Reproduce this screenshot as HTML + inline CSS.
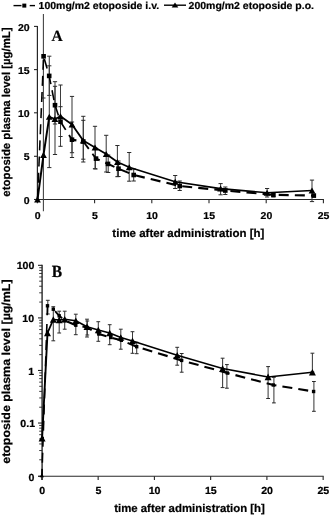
<!DOCTYPE html>
<html lang="en"><head><meta charset="utf-8"><title>etoposide plasma level</title>
<style>html,body{margin:0;padding:0;background:#fff}body{width:330px;height:515px;overflow:hidden}svg{display:block}text{font-family:"Liberation Sans",Arial,Helvetica,sans-serif;font-weight:bold;text-rendering:geometricPrecision;fill:#000;stroke:#000;stroke-width:0.22px}.s{font-family:"Liberation Serif","Times New Roman",serif}</style></head><body>
<svg width="330" height="515" viewBox="0 0 330 515">
<rect width="330" height="515" fill="#fff"/>
<defs><filter id="bl" x="0" y="0" width="330" height="515" filterUnits="userSpaceOnUse"><feGaussianBlur stdDeviation="0.3"/></filter></defs>
<g filter="url(#bl)">
<line x1="13.50" y1="5.60" x2="21.50" y2="5.60" stroke="#000" stroke-width="1.4"/>
<line x1="29.70" y1="5.60" x2="35.00" y2="5.60" stroke="#000" stroke-width="1.4"/>
<rect x="22.30" y="3.60" width="4.0" height="4.0" fill="#000"/>
<text x="0" y="0" font-size="10.1" text-anchor="start" transform="translate(38.60,9.20) scale(1.04,1)">100mg/m2 etoposide i.v.</text>
<line x1="164.00" y1="5.20" x2="186.00" y2="5.20" stroke="#000" stroke-width="1.4"/>
<polygon points="175.00,2.40 178.30,7.60 171.70,7.60" fill="#000"/>
<text x="0" y="0" font-size="10.1" text-anchor="start" transform="translate(188.60,9.20) scale(1.04,1)">200mg/m2 etoposide p.o.</text>
<line x1="37.40" y1="26.00" x2="37.40" y2="200.00" stroke="#262626" stroke-width="1.2"/>
<line x1="34.00" y1="199.50" x2="323.90" y2="199.50" stroke="#262626" stroke-width="1.1"/>
<line x1="34.00" y1="199.50" x2="37.40" y2="199.50" stroke="#262626" stroke-width="1.1"/>
<text x="0" y="0" font-size="10.0" text-anchor="end" transform="translate(29.60,203.60) scale(1.05,1)">0</text>
<line x1="34.00" y1="156.30" x2="37.40" y2="156.30" stroke="#262626" stroke-width="1.1"/>
<text x="0" y="0" font-size="10.0" text-anchor="end" transform="translate(29.60,160.40) scale(1.05,1)">5</text>
<line x1="34.00" y1="112.80" x2="37.40" y2="112.80" stroke="#262626" stroke-width="1.1"/>
<text x="0" y="0" font-size="10.0" text-anchor="end" transform="translate(29.60,116.90) scale(1.05,1)">10</text>
<line x1="34.00" y1="69.60" x2="37.40" y2="69.60" stroke="#262626" stroke-width="1.1"/>
<text x="0" y="0" font-size="10.0" text-anchor="end" transform="translate(29.60,73.70) scale(1.05,1)">15</text>
<line x1="34.00" y1="26.40" x2="37.40" y2="26.40" stroke="#262626" stroke-width="1.1"/>
<text x="0" y="0" font-size="10.0" text-anchor="end" transform="translate(29.60,30.50) scale(1.05,1)">20</text>
<line x1="37.40" y1="199.50" x2="37.40" y2="203.20" stroke="#262626" stroke-width="1.1"/>
<text x="0" y="0" font-size="10.0" text-anchor="middle" transform="translate(37.60,218.80) scale(1.05,1)">0</text>
<line x1="94.60" y1="199.50" x2="94.60" y2="203.20" stroke="#262626" stroke-width="1.1"/>
<text x="0" y="0" font-size="10.0" text-anchor="middle" transform="translate(94.80,218.80) scale(1.05,1)">5</text>
<line x1="151.80" y1="199.50" x2="151.80" y2="203.20" stroke="#262626" stroke-width="1.1"/>
<text x="0" y="0" font-size="10.0" text-anchor="middle" transform="translate(152.00,218.80) scale(1.05,1)">10</text>
<line x1="209.00" y1="199.50" x2="209.00" y2="203.20" stroke="#262626" stroke-width="1.1"/>
<text x="0" y="0" font-size="10.0" text-anchor="middle" transform="translate(209.20,218.80) scale(1.05,1)">15</text>
<line x1="266.20" y1="199.50" x2="266.20" y2="203.20" stroke="#262626" stroke-width="1.1"/>
<text x="0" y="0" font-size="10.0" text-anchor="middle" transform="translate(266.40,218.80) scale(1.05,1)">20</text>
<line x1="323.40" y1="199.50" x2="323.40" y2="203.20" stroke="#262626" stroke-width="1.1"/>
<text x="0" y="0" font-size="10.0" text-anchor="middle" transform="translate(323.60,218.80) scale(1.05,1)">25</text>
<text x="0" y="0" font-size="11.4" text-anchor="middle" transform="translate(10.4,112) rotate(-90)">etoposide plasma level [µg/mL]</text>
<text x="0" y="0" font-size="11.5" text-anchor="middle" transform="translate(188.40,237.30) scale(1.0001,1)">time after administration [h]</text>
<text x="0" y="0" font-size="15.5" text-anchor="start" class="s" transform="translate(51.60,41.30) scale(1.0001,1)">A</text>
<line x1="43.40" y1="14.00" x2="43.40" y2="98.00" stroke="#3c3c3c" stroke-width="1.05"/>
<line x1="41.30" y1="98.00" x2="45.50" y2="98.00" stroke="#2a2a2a" stroke-width="1.0"/>
<line x1="43.40" y1="98.00" x2="43.40" y2="211.20" stroke="#3c3c3c" stroke-width="1.05"/>
<line x1="49.30" y1="56.20" x2="49.30" y2="95.40" stroke="#3c3c3c" stroke-width="1.05"/>
<line x1="47.20" y1="56.20" x2="51.40" y2="56.20" stroke="#2a2a2a" stroke-width="1.0"/>
<line x1="47.20" y1="95.40" x2="51.40" y2="95.40" stroke="#2a2a2a" stroke-width="1.0"/>
<line x1="49.30" y1="65.80" x2="49.30" y2="167.60" stroke="#3c3c3c" stroke-width="1.05"/>
<line x1="47.20" y1="65.80" x2="51.40" y2="65.80" stroke="#2a2a2a" stroke-width="1.0"/>
<line x1="47.20" y1="167.60" x2="51.40" y2="167.60" stroke="#2a2a2a" stroke-width="1.0"/>
<line x1="55.00" y1="81.70" x2="55.00" y2="154.50" stroke="#3c3c3c" stroke-width="1.05"/>
<line x1="52.90" y1="81.70" x2="57.10" y2="81.70" stroke="#2a2a2a" stroke-width="1.0"/>
<line x1="52.90" y1="154.50" x2="57.10" y2="154.50" stroke="#2a2a2a" stroke-width="1.0"/>
<line x1="55.00" y1="86.30" x2="55.00" y2="124.00" stroke="#3c3c3c" stroke-width="1.05"/>
<line x1="52.90" y1="86.30" x2="57.10" y2="86.30" stroke="#2a2a2a" stroke-width="1.0"/>
<line x1="52.90" y1="124.00" x2="57.10" y2="124.00" stroke="#2a2a2a" stroke-width="1.0"/>
<line x1="60.50" y1="85.00" x2="60.50" y2="146.30" stroke="#3c3c3c" stroke-width="1.05"/>
<line x1="58.40" y1="85.00" x2="62.60" y2="85.00" stroke="#2a2a2a" stroke-width="1.0"/>
<line x1="58.40" y1="146.30" x2="62.60" y2="146.30" stroke="#2a2a2a" stroke-width="1.0"/>
<line x1="60.50" y1="106.70" x2="60.50" y2="136.50" stroke="#3c3c3c" stroke-width="1.05"/>
<line x1="58.40" y1="106.70" x2="62.60" y2="106.70" stroke="#2a2a2a" stroke-width="1.0"/>
<line x1="58.40" y1="136.50" x2="62.60" y2="136.50" stroke="#2a2a2a" stroke-width="1.0"/>
<line x1="72.00" y1="96.40" x2="72.00" y2="152.70" stroke="#3c3c3c" stroke-width="1.05"/>
<line x1="69.90" y1="96.40" x2="74.10" y2="96.40" stroke="#2a2a2a" stroke-width="1.0"/>
<line x1="69.90" y1="152.70" x2="74.10" y2="152.70" stroke="#2a2a2a" stroke-width="1.0"/>
<line x1="72.00" y1="122.00" x2="72.00" y2="157.50" stroke="#3c3c3c" stroke-width="1.05"/>
<line x1="69.90" y1="122.00" x2="74.10" y2="122.00" stroke="#2a2a2a" stroke-width="1.0"/>
<line x1="69.90" y1="157.50" x2="74.10" y2="157.50" stroke="#2a2a2a" stroke-width="1.0"/>
<line x1="83.30" y1="116.30" x2="83.30" y2="162.00" stroke="#3c3c3c" stroke-width="1.05"/>
<line x1="81.20" y1="116.30" x2="85.40" y2="116.30" stroke="#2a2a2a" stroke-width="1.0"/>
<line x1="81.20" y1="162.00" x2="85.40" y2="162.00" stroke="#2a2a2a" stroke-width="1.0"/>
<line x1="83.30" y1="120.30" x2="83.30" y2="159.20" stroke="#3c3c3c" stroke-width="1.05"/>
<line x1="81.20" y1="120.30" x2="85.40" y2="120.30" stroke="#2a2a2a" stroke-width="1.0"/>
<line x1="81.20" y1="159.20" x2="85.40" y2="159.20" stroke="#2a2a2a" stroke-width="1.0"/>
<line x1="95.00" y1="126.30" x2="95.00" y2="168.70" stroke="#3c3c3c" stroke-width="1.05"/>
<line x1="92.90" y1="126.30" x2="97.10" y2="126.30" stroke="#2a2a2a" stroke-width="1.0"/>
<line x1="92.90" y1="168.70" x2="97.10" y2="168.70" stroke="#2a2a2a" stroke-width="1.0"/>
<line x1="95.50" y1="148.00" x2="95.50" y2="169.00" stroke="#3c3c3c" stroke-width="1.05"/>
<line x1="93.40" y1="148.00" x2="97.60" y2="148.00" stroke="#2a2a2a" stroke-width="1.0"/>
<line x1="93.40" y1="169.00" x2="97.60" y2="169.00" stroke="#2a2a2a" stroke-width="1.0"/>
<line x1="106.20" y1="135.30" x2="106.20" y2="172.00" stroke="#3c3c3c" stroke-width="1.05"/>
<line x1="104.10" y1="135.30" x2="108.30" y2="135.30" stroke="#2a2a2a" stroke-width="1.0"/>
<line x1="104.10" y1="172.00" x2="108.30" y2="172.00" stroke="#2a2a2a" stroke-width="1.0"/>
<line x1="108.20" y1="155.00" x2="108.20" y2="172.50" stroke="#3c3c3c" stroke-width="1.05"/>
<line x1="106.10" y1="155.00" x2="110.30" y2="155.00" stroke="#2a2a2a" stroke-width="1.0"/>
<line x1="106.10" y1="172.50" x2="110.30" y2="172.50" stroke="#2a2a2a" stroke-width="1.0"/>
<line x1="117.40" y1="145.50" x2="117.40" y2="176.70" stroke="#3c3c3c" stroke-width="1.05"/>
<line x1="115.30" y1="145.50" x2="119.50" y2="145.50" stroke="#2a2a2a" stroke-width="1.0"/>
<line x1="115.30" y1="176.70" x2="119.50" y2="176.70" stroke="#2a2a2a" stroke-width="1.0"/>
<line x1="118.50" y1="161.00" x2="118.50" y2="176.50" stroke="#3c3c3c" stroke-width="1.05"/>
<line x1="116.40" y1="161.00" x2="120.60" y2="161.00" stroke="#2a2a2a" stroke-width="1.0"/>
<line x1="116.40" y1="176.50" x2="120.60" y2="176.50" stroke="#2a2a2a" stroke-width="1.0"/>
<line x1="129.20" y1="152.50" x2="129.20" y2="181.20" stroke="#3c3c3c" stroke-width="1.05"/>
<line x1="127.10" y1="152.50" x2="131.30" y2="152.50" stroke="#2a2a2a" stroke-width="1.0"/>
<line x1="127.10" y1="181.20" x2="131.30" y2="181.20" stroke="#2a2a2a" stroke-width="1.0"/>
<line x1="133.70" y1="169.00" x2="133.70" y2="181.00" stroke="#3c3c3c" stroke-width="1.05"/>
<line x1="131.60" y1="169.00" x2="135.80" y2="169.00" stroke="#2a2a2a" stroke-width="1.0"/>
<line x1="131.60" y1="181.00" x2="135.80" y2="181.00" stroke="#2a2a2a" stroke-width="1.0"/>
<line x1="175.20" y1="175.50" x2="175.20" y2="188.50" stroke="#3c3c3c" stroke-width="1.05"/>
<line x1="173.10" y1="175.50" x2="177.30" y2="175.50" stroke="#2a2a2a" stroke-width="1.0"/>
<line x1="173.10" y1="188.50" x2="177.30" y2="188.50" stroke="#2a2a2a" stroke-width="1.0"/>
<line x1="179.70" y1="181.00" x2="179.70" y2="190.50" stroke="#3c3c3c" stroke-width="1.05"/>
<line x1="177.60" y1="181.00" x2="181.80" y2="181.00" stroke="#2a2a2a" stroke-width="1.0"/>
<line x1="177.60" y1="190.50" x2="181.80" y2="190.50" stroke="#2a2a2a" stroke-width="1.0"/>
<line x1="220.60" y1="183.60" x2="220.60" y2="194.80" stroke="#3c3c3c" stroke-width="1.05"/>
<line x1="218.50" y1="183.60" x2="222.70" y2="183.60" stroke="#2a2a2a" stroke-width="1.0"/>
<line x1="218.50" y1="194.80" x2="222.70" y2="194.80" stroke="#2a2a2a" stroke-width="1.0"/>
<line x1="225.30" y1="187.00" x2="225.30" y2="194.50" stroke="#3c3c3c" stroke-width="1.05"/>
<line x1="223.20" y1="187.00" x2="227.40" y2="187.00" stroke="#2a2a2a" stroke-width="1.0"/>
<line x1="223.20" y1="194.50" x2="227.40" y2="194.50" stroke="#2a2a2a" stroke-width="1.0"/>
<line x1="267.10" y1="188.50" x2="267.10" y2="197.00" stroke="#3c3c3c" stroke-width="1.05"/>
<line x1="265.00" y1="188.50" x2="269.20" y2="188.50" stroke="#2a2a2a" stroke-width="1.0"/>
<line x1="265.00" y1="197.00" x2="269.20" y2="197.00" stroke="#2a2a2a" stroke-width="1.0"/>
<line x1="273.40" y1="192.50" x2="273.40" y2="197.00" stroke="#3c3c3c" stroke-width="1.05"/>
<line x1="271.30" y1="192.50" x2="275.50" y2="192.50" stroke="#2a2a2a" stroke-width="1.0"/>
<line x1="271.30" y1="197.00" x2="275.50" y2="197.00" stroke="#2a2a2a" stroke-width="1.0"/>
<line x1="312.00" y1="180.10" x2="312.00" y2="201.60" stroke="#3c3c3c" stroke-width="1.05"/>
<line x1="309.90" y1="180.10" x2="314.10" y2="180.10" stroke="#2a2a2a" stroke-width="1.0"/>
<line x1="309.90" y1="201.60" x2="314.10" y2="201.60" stroke="#2a2a2a" stroke-width="1.0"/>
<line x1="37.53" y1="198.80" x2="37.96" y2="188.81" stroke="#000" stroke-width="1.55"/>
<line x1="38.22" y1="182.67" x2="38.64" y2="172.67" stroke="#000" stroke-width="1.55"/>
<line x1="38.90" y1="166.53" x2="39.33" y2="156.54" stroke="#000" stroke-width="1.55"/>
<line x1="39.59" y1="150.39" x2="40.02" y2="140.40" stroke="#000" stroke-width="1.55"/>
<line x1="40.28" y1="134.26" x2="40.70" y2="124.27" stroke="#000" stroke-width="1.55"/>
<line x1="40.97" y1="118.12" x2="41.39" y2="108.13" stroke="#000" stroke-width="1.55"/>
<line x1="41.65" y1="101.99" x2="42.08" y2="92.00" stroke="#000" stroke-width="1.55"/>
<line x1="42.34" y1="85.85" x2="42.77" y2="75.86" stroke="#000" stroke-width="1.55"/>
<line x1="43.03" y1="69.72" x2="43.45" y2="59.73" stroke="#000" stroke-width="1.55"/>
<line x1="44.35" y1="58.92" x2="47.09" y2="68.53" stroke="#000" stroke-width="1.6"/>
<line x1="48.78" y1="74.44" x2="49.20" y2="75.90" stroke="#000" stroke-width="1.6"/>
<line x1="49.20" y1="75.90" x2="50.85" y2="84.22" stroke="#000" stroke-width="1.58"/>
<line x1="52.04" y1="90.26" x2="53.98" y2="100.07" stroke="#000" stroke-width="1.58"/>
<line x1="55.29" y1="106.07" x2="58.45" y2="115.56" stroke="#000" stroke-width="1.62"/>
<line x1="60.40" y1="121.39" x2="60.50" y2="121.70" stroke="#000" stroke-width="1.62"/>
<line x1="60.50" y1="121.70" x2="65.71" y2="129.85" stroke="#000" stroke-width="1.75"/>
<line x1="69.02" y1="135.04" x2="72.00" y2="139.70" stroke="#000" stroke-width="1.75"/>
<line x1="72.00" y1="139.70" x2="76.41" y2="140.40" stroke="#000" stroke-width="2.14"/>
<line x1="82.48" y1="141.37" x2="83.30" y2="141.50" stroke="#000" stroke-width="2.14"/>
<line x1="83.30" y1="141.50" x2="88.77" y2="148.86" stroke="#000" stroke-width="1.79"/>
<line x1="92.44" y1="153.80" x2="96.00" y2="158.60" stroke="#000" stroke-width="1.79"/>
<line x1="96.00" y1="158.60" x2="99.68" y2="160.22" stroke="#000" stroke-width="2.06"/>
<line x1="105.30" y1="162.71" x2="108.00" y2="163.90" stroke="#000" stroke-width="2.06"/>
<line x1="108.00" y1="163.90" x2="114.42" y2="166.83" stroke="#000" stroke-width="2.06"/>
<line x1="120.03" y1="169.34" x2="129.27" y2="173.16" stroke="#000" stroke-width="2.07"/>
<line x1="135.02" y1="175.32" x2="144.74" y2="177.64" stroke="#000" stroke-width="2.12"/>
<line x1="150.72" y1="179.07" x2="160.45" y2="181.40" stroke="#000" stroke-width="2.12"/>
<line x1="166.43" y1="182.83" x2="176.16" y2="185.15" stroke="#000" stroke-width="2.12"/>
<line x1="182.20" y1="186.25" x2="192.15" y2="187.23" stroke="#000" stroke-width="2.15"/>
<line x1="198.27" y1="187.83" x2="208.22" y2="188.81" stroke="#000" stroke-width="2.15"/>
<line x1="214.34" y1="189.42" x2="224.29" y2="190.40" stroke="#000" stroke-width="2.15"/>
<line x1="230.42" y1="190.96" x2="240.38" y2="191.85" stroke="#000" stroke-width="2.15"/>
<line x1="246.50" y1="192.40" x2="256.46" y2="193.29" stroke="#000" stroke-width="2.15"/>
<line x1="262.59" y1="193.83" x2="272.55" y2="194.72" stroke="#000" stroke-width="2.15"/>
<line x1="278.69" y1="194.90" x2="288.69" y2="195.10" stroke="#000" stroke-width="2.15"/>
<line x1="294.84" y1="195.22" x2="304.84" y2="195.42" stroke="#000" stroke-width="2.15"/>
<line x1="310.99" y1="195.54" x2="313.80" y2="195.60" stroke="#000" stroke-width="2.15"/>
<line x1="37.50" y1="199.50" x2="43.50" y2="155.00" stroke="#000" stroke-width="1.94" stroke-linecap="round"/>
<line x1="43.50" y1="155.00" x2="49.30" y2="116.70" stroke="#000" stroke-width="1.94" stroke-linecap="round"/>
<line x1="49.30" y1="116.70" x2="54.90" y2="119.00" stroke="#000" stroke-width="1.66" stroke-linecap="round"/>
<line x1="54.90" y1="119.00" x2="60.50" y2="116.30" stroke="#000" stroke-width="1.67" stroke-linecap="round"/>
<line x1="60.50" y1="116.30" x2="72.00" y2="124.50" stroke="#000" stroke-width="1.73" stroke-linecap="round"/>
<line x1="72.00" y1="124.50" x2="83.20" y2="140.50" stroke="#000" stroke-width="1.84" stroke-linecap="round"/>
<line x1="83.20" y1="140.50" x2="95.00" y2="147.50" stroke="#000" stroke-width="1.7" stroke-linecap="round"/>
<line x1="95.00" y1="147.50" x2="106.20" y2="154.00" stroke="#000" stroke-width="1.7" stroke-linecap="round"/>
<line x1="106.20" y1="154.00" x2="117.40" y2="162.00" stroke="#000" stroke-width="1.73" stroke-linecap="round"/>
<line x1="117.40" y1="162.00" x2="129.20" y2="167.20" stroke="#000" stroke-width="1.66" stroke-linecap="round"/>
<line x1="129.20" y1="167.20" x2="175.20" y2="181.70" stroke="#000" stroke-width="1.63" stroke-linecap="round"/>
<line x1="175.20" y1="181.70" x2="220.60" y2="188.60" stroke="#000" stroke-width="1.61" stroke-linecap="round"/>
<line x1="220.60" y1="188.60" x2="267.10" y2="192.80" stroke="#000" stroke-width="1.6" stroke-linecap="round"/>
<line x1="267.10" y1="192.80" x2="312.00" y2="190.50" stroke="#000" stroke-width="1.6" stroke-linecap="round"/>
<rect x="41.30" y="54.00" width="4.6" height="4.6" fill="#000"/>
<rect x="46.90" y="73.60" width="4.6" height="4.6" fill="#000"/>
<rect x="52.70" y="102.90" width="4.6" height="4.6" fill="#000"/>
<rect x="58.20" y="119.40" width="4.6" height="4.6" fill="#000"/>
<rect x="69.70" y="137.40" width="4.6" height="4.6" fill="#000"/>
<rect x="81.00" y="139.20" width="4.6" height="4.6" fill="#000"/>
<rect x="93.70" y="156.30" width="4.6" height="4.6" fill="#000"/>
<rect x="105.70" y="161.60" width="4.6" height="4.6" fill="#000"/>
<rect x="116.20" y="166.40" width="4.6" height="4.6" fill="#000"/>
<rect x="131.40" y="172.70" width="4.6" height="4.6" fill="#000"/>
<rect x="177.40" y="183.70" width="4.6" height="4.6" fill="#000"/>
<rect x="223.00" y="188.20" width="4.6" height="4.6" fill="#000"/>
<rect x="271.10" y="192.50" width="4.6" height="4.6" fill="#000"/>
<rect x="311.50" y="193.30" width="4.6" height="4.6" fill="#000"/>
<polygon points="37.50,196.50 40.90,202.50 34.10,202.50" fill="#000"/>
<polygon points="43.50,152.00 46.90,158.00 40.10,158.00" fill="#000"/>
<polygon points="49.30,113.70 52.70,119.70 45.90,119.70" fill="#000"/>
<polygon points="54.90,116.00 58.30,122.00 51.50,122.00" fill="#000"/>
<polygon points="60.50,113.30 63.90,119.30 57.10,119.30" fill="#000"/>
<polygon points="72.00,121.50 75.40,127.50 68.60,127.50" fill="#000"/>
<polygon points="83.20,137.50 86.60,143.50 79.80,143.50" fill="#000"/>
<polygon points="95.00,144.50 98.40,150.50 91.60,150.50" fill="#000"/>
<polygon points="106.20,151.00 109.60,157.00 102.80,157.00" fill="#000"/>
<polygon points="117.40,159.00 120.80,165.00 114.00,165.00" fill="#000"/>
<polygon points="129.20,164.20 132.60,170.20 125.80,170.20" fill="#000"/>
<polygon points="175.20,178.70 178.60,184.70 171.80,184.70" fill="#000"/>
<polygon points="220.60,185.60 224.00,191.60 217.20,191.60" fill="#000"/>
<polygon points="267.10,189.80 270.50,195.80 263.70,195.80" fill="#000"/>
<polygon points="312.00,187.50 315.40,193.50 308.60,193.50" fill="#000"/>
<line x1="42.10" y1="264.80" x2="42.10" y2="480.00" stroke="#262626" stroke-width="1.4"/>
<line x1="38.20" y1="476.30" x2="323.70" y2="476.30" stroke="#262626" stroke-width="1.1"/>
<line x1="38.00" y1="265.33" x2="42.10" y2="265.33" stroke="#262626" stroke-width="1.1"/>
<text x="0" y="0" font-size="10.3" text-anchor="end" transform="translate(34.40,269.13) scale(1.03,1)">100</text>
<line x1="38.00" y1="317.90" x2="42.10" y2="317.90" stroke="#262626" stroke-width="1.1"/>
<text x="0" y="0" font-size="10.3" text-anchor="end" transform="translate(34.10,321.70) scale(1.03,1)">10</text>
<line x1="38.00" y1="370.47" x2="42.10" y2="370.47" stroke="#262626" stroke-width="1.1"/>
<text x="0" y="0" font-size="10.3" text-anchor="end" transform="translate(34.20,374.87) scale(1.03,1)">1</text>
<line x1="38.00" y1="423.04" x2="42.10" y2="423.04" stroke="#262626" stroke-width="1.1"/>
<text x="0" y="0" font-size="10.3" text-anchor="end" transform="translate(35.10,426.84) scale(1.03,1)">0.1</text>
<line x1="38.00" y1="476.30" x2="42.10" y2="476.30" stroke="#262626" stroke-width="1.1"/>
<text x="0" y="0" font-size="10.3" text-anchor="end" transform="translate(34.30,480.70) scale(1.03,1)">0</text>
<line x1="39.20" y1="459.78" x2="42.10" y2="459.78" stroke="#262626" stroke-width="0.9"/>
<line x1="39.20" y1="450.53" x2="42.10" y2="450.53" stroke="#262626" stroke-width="0.9"/>
<line x1="39.20" y1="443.96" x2="42.10" y2="443.96" stroke="#262626" stroke-width="0.9"/>
<line x1="39.20" y1="438.87" x2="42.10" y2="438.87" stroke="#262626" stroke-width="0.9"/>
<line x1="39.20" y1="434.70" x2="42.10" y2="434.70" stroke="#262626" stroke-width="0.9"/>
<line x1="39.20" y1="431.18" x2="42.10" y2="431.18" stroke="#262626" stroke-width="0.9"/>
<line x1="39.20" y1="428.13" x2="42.10" y2="428.13" stroke="#262626" stroke-width="0.9"/>
<line x1="39.20" y1="425.45" x2="42.10" y2="425.45" stroke="#262626" stroke-width="0.9"/>
<line x1="39.20" y1="407.21" x2="42.10" y2="407.21" stroke="#262626" stroke-width="0.9"/>
<line x1="39.20" y1="397.96" x2="42.10" y2="397.96" stroke="#262626" stroke-width="0.9"/>
<line x1="39.20" y1="391.39" x2="42.10" y2="391.39" stroke="#262626" stroke-width="0.9"/>
<line x1="39.20" y1="386.30" x2="42.10" y2="386.30" stroke="#262626" stroke-width="0.9"/>
<line x1="39.20" y1="382.13" x2="42.10" y2="382.13" stroke="#262626" stroke-width="0.9"/>
<line x1="39.20" y1="378.61" x2="42.10" y2="378.61" stroke="#262626" stroke-width="0.9"/>
<line x1="39.20" y1="375.56" x2="42.10" y2="375.56" stroke="#262626" stroke-width="0.9"/>
<line x1="39.20" y1="372.88" x2="42.10" y2="372.88" stroke="#262626" stroke-width="0.9"/>
<line x1="39.20" y1="354.64" x2="42.10" y2="354.64" stroke="#262626" stroke-width="0.9"/>
<line x1="39.20" y1="345.39" x2="42.10" y2="345.39" stroke="#262626" stroke-width="0.9"/>
<line x1="39.20" y1="338.82" x2="42.10" y2="338.82" stroke="#262626" stroke-width="0.9"/>
<line x1="39.20" y1="333.73" x2="42.10" y2="333.73" stroke="#262626" stroke-width="0.9"/>
<line x1="39.20" y1="329.56" x2="42.10" y2="329.56" stroke="#262626" stroke-width="0.9"/>
<line x1="39.20" y1="326.04" x2="42.10" y2="326.04" stroke="#262626" stroke-width="0.9"/>
<line x1="39.20" y1="322.99" x2="42.10" y2="322.99" stroke="#262626" stroke-width="0.9"/>
<line x1="39.20" y1="320.31" x2="42.10" y2="320.31" stroke="#262626" stroke-width="0.9"/>
<line x1="39.20" y1="302.07" x2="42.10" y2="302.07" stroke="#262626" stroke-width="0.9"/>
<line x1="39.20" y1="292.82" x2="42.10" y2="292.82" stroke="#262626" stroke-width="0.9"/>
<line x1="39.20" y1="286.25" x2="42.10" y2="286.25" stroke="#262626" stroke-width="0.9"/>
<line x1="39.20" y1="281.16" x2="42.10" y2="281.16" stroke="#262626" stroke-width="0.9"/>
<line x1="39.20" y1="276.99" x2="42.10" y2="276.99" stroke="#262626" stroke-width="0.9"/>
<line x1="39.20" y1="273.47" x2="42.10" y2="273.47" stroke="#262626" stroke-width="0.9"/>
<line x1="39.20" y1="270.42" x2="42.10" y2="270.42" stroke="#262626" stroke-width="0.9"/>
<line x1="39.20" y1="267.74" x2="42.10" y2="267.74" stroke="#262626" stroke-width="0.9"/>
<line x1="41.90" y1="476.30" x2="41.90" y2="480.10" stroke="#262626" stroke-width="1.1"/>
<text x="0" y="0" font-size="10.3" text-anchor="middle" transform="translate(42.10,493.70) scale(1.03,1)">0</text>
<line x1="98.15" y1="476.30" x2="98.15" y2="480.10" stroke="#262626" stroke-width="1.1"/>
<text x="0" y="0" font-size="10.3" text-anchor="middle" transform="translate(98.35,493.70) scale(1.03,1)">5</text>
<line x1="154.40" y1="476.30" x2="154.40" y2="480.10" stroke="#262626" stroke-width="1.1"/>
<text x="0" y="0" font-size="10.3" text-anchor="middle" transform="translate(154.60,493.70) scale(1.03,1)">10</text>
<line x1="210.65" y1="476.30" x2="210.65" y2="480.10" stroke="#262626" stroke-width="1.1"/>
<text x="0" y="0" font-size="10.3" text-anchor="middle" transform="translate(210.85,493.70) scale(1.03,1)">15</text>
<line x1="266.90" y1="476.30" x2="266.90" y2="480.10" stroke="#262626" stroke-width="1.1"/>
<text x="0" y="0" font-size="10.3" text-anchor="middle" transform="translate(267.10,493.70) scale(1.03,1)">20</text>
<line x1="323.15" y1="476.30" x2="323.15" y2="480.10" stroke="#262626" stroke-width="1.1"/>
<text x="0" y="0" font-size="10.3" text-anchor="middle" transform="translate(323.35,493.70) scale(1.03,1)">25</text>
<text x="0" y="0" font-size="11.6" text-anchor="middle" transform="translate(10.4,371.6) rotate(-90) scale(1.07,1)">etoposide plasma level [µg/mL]</text>
<text x="0" y="0" font-size="11.4" text-anchor="middle" transform="translate(189.50,512.00) scale(1.0001,1)">time after administration [h]</text>
<text x="0" y="0" font-size="15.5" text-anchor="start" class="s" transform="translate(51.7,277.1) scale(1,1.1)">B</text>
<line x1="47.80" y1="300.30" x2="47.80" y2="314.00" stroke="#3c3c3c" stroke-width="1.05"/>
<line x1="45.90" y1="300.30" x2="49.70" y2="300.30" stroke="#2a2a2a" stroke-width="1.0"/>
<line x1="45.90" y1="314.00" x2="49.70" y2="314.00" stroke="#2a2a2a" stroke-width="1.0"/>
<line x1="53.30" y1="306.70" x2="53.30" y2="340.80" stroke="#3c3c3c" stroke-width="1.05"/>
<line x1="51.40" y1="306.70" x2="55.20" y2="306.70" stroke="#2a2a2a" stroke-width="1.0"/>
<line x1="51.40" y1="340.80" x2="55.20" y2="340.80" stroke="#2a2a2a" stroke-width="1.0"/>
<line x1="59.20" y1="311.20" x2="59.20" y2="333.00" stroke="#3c3c3c" stroke-width="1.05"/>
<line x1="57.30" y1="311.20" x2="61.10" y2="311.20" stroke="#2a2a2a" stroke-width="1.0"/>
<line x1="57.30" y1="333.00" x2="61.10" y2="333.00" stroke="#2a2a2a" stroke-width="1.0"/>
<line x1="64.70" y1="311.20" x2="64.70" y2="329.20" stroke="#3c3c3c" stroke-width="1.05"/>
<line x1="62.80" y1="311.20" x2="66.60" y2="311.20" stroke="#2a2a2a" stroke-width="1.0"/>
<line x1="62.80" y1="329.20" x2="66.60" y2="329.20" stroke="#2a2a2a" stroke-width="1.0"/>
<line x1="75.80" y1="314.20" x2="75.80" y2="334.70" stroke="#3c3c3c" stroke-width="1.05"/>
<line x1="73.90" y1="314.20" x2="77.70" y2="314.20" stroke="#2a2a2a" stroke-width="1.0"/>
<line x1="73.90" y1="334.70" x2="77.70" y2="334.70" stroke="#2a2a2a" stroke-width="1.0"/>
<line x1="87.00" y1="319.20" x2="87.00" y2="337.00" stroke="#3c3c3c" stroke-width="1.05"/>
<line x1="85.10" y1="319.20" x2="88.90" y2="319.20" stroke="#2a2a2a" stroke-width="1.0"/>
<line x1="85.10" y1="337.00" x2="88.90" y2="337.00" stroke="#2a2a2a" stroke-width="1.0"/>
<line x1="87.30" y1="321.00" x2="87.30" y2="335.00" stroke="#3c3c3c" stroke-width="1.05"/>
<line x1="85.40" y1="321.00" x2="89.20" y2="321.00" stroke="#2a2a2a" stroke-width="1.0"/>
<line x1="85.40" y1="335.00" x2="89.20" y2="335.00" stroke="#2a2a2a" stroke-width="1.0"/>
<line x1="98.30" y1="321.70" x2="98.30" y2="341.30" stroke="#3c3c3c" stroke-width="1.05"/>
<line x1="96.40" y1="321.70" x2="100.20" y2="321.70" stroke="#2a2a2a" stroke-width="1.0"/>
<line x1="96.40" y1="341.30" x2="100.20" y2="341.30" stroke="#2a2a2a" stroke-width="1.0"/>
<line x1="109.70" y1="324.70" x2="109.70" y2="344.70" stroke="#3c3c3c" stroke-width="1.05"/>
<line x1="107.80" y1="324.70" x2="111.60" y2="324.70" stroke="#2a2a2a" stroke-width="1.0"/>
<line x1="107.80" y1="344.70" x2="111.60" y2="344.70" stroke="#2a2a2a" stroke-width="1.0"/>
<line x1="120.80" y1="329.20" x2="120.80" y2="349.20" stroke="#3c3c3c" stroke-width="1.05"/>
<line x1="118.90" y1="329.20" x2="122.70" y2="329.20" stroke="#2a2a2a" stroke-width="1.0"/>
<line x1="118.90" y1="349.20" x2="122.70" y2="349.20" stroke="#2a2a2a" stroke-width="1.0"/>
<line x1="132.50" y1="331.70" x2="132.50" y2="353.30" stroke="#3c3c3c" stroke-width="1.05"/>
<line x1="130.60" y1="331.70" x2="134.40" y2="331.70" stroke="#2a2a2a" stroke-width="1.0"/>
<line x1="130.60" y1="353.30" x2="134.40" y2="353.30" stroke="#2a2a2a" stroke-width="1.0"/>
<line x1="136.70" y1="342.30" x2="136.70" y2="353.70" stroke="#3c3c3c" stroke-width="1.05"/>
<line x1="134.80" y1="342.30" x2="138.60" y2="342.30" stroke="#2a2a2a" stroke-width="1.0"/>
<line x1="134.80" y1="353.70" x2="138.60" y2="353.70" stroke="#2a2a2a" stroke-width="1.0"/>
<line x1="177.20" y1="347.30" x2="177.20" y2="365.20" stroke="#3c3c3c" stroke-width="1.05"/>
<line x1="175.30" y1="347.30" x2="179.10" y2="347.30" stroke="#2a2a2a" stroke-width="1.0"/>
<line x1="175.30" y1="365.20" x2="179.10" y2="365.20" stroke="#2a2a2a" stroke-width="1.0"/>
<line x1="181.70" y1="353.50" x2="181.70" y2="372.20" stroke="#3c3c3c" stroke-width="1.05"/>
<line x1="179.80" y1="353.50" x2="183.60" y2="353.50" stroke="#2a2a2a" stroke-width="1.0"/>
<line x1="179.80" y1="372.20" x2="183.60" y2="372.20" stroke="#2a2a2a" stroke-width="1.0"/>
<line x1="222.60" y1="358.20" x2="222.60" y2="387.60" stroke="#3c3c3c" stroke-width="1.05"/>
<line x1="220.70" y1="358.20" x2="224.50" y2="358.20" stroke="#2a2a2a" stroke-width="1.0"/>
<line x1="220.70" y1="387.60" x2="224.50" y2="387.60" stroke="#2a2a2a" stroke-width="1.0"/>
<line x1="226.90" y1="364.60" x2="226.90" y2="388.20" stroke="#3c3c3c" stroke-width="1.05"/>
<line x1="225.00" y1="364.60" x2="228.80" y2="364.60" stroke="#2a2a2a" stroke-width="1.0"/>
<line x1="225.00" y1="388.20" x2="228.80" y2="388.20" stroke="#2a2a2a" stroke-width="1.0"/>
<line x1="268.10" y1="366.60" x2="268.10" y2="398.50" stroke="#3c3c3c" stroke-width="1.05"/>
<line x1="266.20" y1="366.60" x2="270.00" y2="366.60" stroke="#2a2a2a" stroke-width="1.0"/>
<line x1="266.20" y1="398.50" x2="270.00" y2="398.50" stroke="#2a2a2a" stroke-width="1.0"/>
<line x1="273.90" y1="377.30" x2="273.90" y2="402.90" stroke="#3c3c3c" stroke-width="1.05"/>
<line x1="272.00" y1="377.30" x2="275.80" y2="377.30" stroke="#2a2a2a" stroke-width="1.0"/>
<line x1="272.00" y1="402.90" x2="275.80" y2="402.90" stroke="#2a2a2a" stroke-width="1.0"/>
<line x1="312.40" y1="353.20" x2="312.40" y2="372.00" stroke="#3c3c3c" stroke-width="1.05"/>
<line x1="310.50" y1="353.20" x2="314.30" y2="353.20" stroke="#2a2a2a" stroke-width="1.0"/>
<line x1="310.50" y1="372.00" x2="314.30" y2="372.00" stroke="#2a2a2a" stroke-width="1.0"/>
<line x1="313.90" y1="381.50" x2="313.90" y2="411.30" stroke="#3c3c3c" stroke-width="1.05"/>
<line x1="312.00" y1="381.50" x2="315.80" y2="381.50" stroke="#2a2a2a" stroke-width="1.0"/>
<line x1="312.00" y1="411.30" x2="315.80" y2="411.30" stroke="#2a2a2a" stroke-width="1.0"/>
<line x1="47.50" y1="305.80" x2="47.19" y2="315.30" stroke="#000" stroke-width="1.6"/>
<line x1="46.90" y1="324.00" x2="46.57" y2="334.00" stroke="#000" stroke-width="1.6"/>
<line x1="46.37" y1="340.10" x2="46.04" y2="350.10" stroke="#000" stroke-width="1.6"/>
<line x1="45.84" y1="356.20" x2="45.51" y2="366.20" stroke="#000" stroke-width="1.6"/>
<line x1="45.31" y1="372.30" x2="44.98" y2="382.30" stroke="#000" stroke-width="1.6"/>
<line x1="44.78" y1="388.40" x2="44.45" y2="398.40" stroke="#000" stroke-width="1.6"/>
<line x1="44.25" y1="404.50" x2="43.92" y2="414.50" stroke="#000" stroke-width="1.6"/>
<line x1="43.72" y1="420.60" x2="43.39" y2="430.60" stroke="#000" stroke-width="1.6"/>
<line x1="43.19" y1="436.70" x2="42.86" y2="446.70" stroke="#000" stroke-width="1.6"/>
<line x1="42.65" y1="452.80" x2="42.33" y2="462.80" stroke="#000" stroke-width="1.6"/>
<line x1="42.12" y1="468.90" x2="41.90" y2="475.70" stroke="#000" stroke-width="1.6"/>
<line x1="55.10" y1="311.21" x2="59.20" y2="315.80" stroke="#000" stroke-width="1.84"/>
<line x1="59.20" y1="315.80" x2="62.12" y2="318.30" stroke="#000" stroke-width="1.92"/>
<line x1="67.20" y1="321.56" x2="75.80" y2="325.20" stroke="#000" stroke-width="2.07"/>
<line x1="75.80" y1="325.20" x2="76.44" y2="325.33" stroke="#000" stroke-width="2.13"/>
<line x1="82.42" y1="326.56" x2="87.00" y2="327.50" stroke="#000" stroke-width="2.13"/>
<line x1="87.00" y1="327.50" x2="91.66" y2="330.07" stroke="#000" stroke-width="2.03"/>
<line x1="97.00" y1="333.01" x2="98.80" y2="334.00" stroke="#000" stroke-width="2.03"/>
<line x1="98.80" y1="334.00" x2="106.43" y2="336.23" stroke="#000" stroke-width="2.11"/>
<line x1="112.30" y1="337.90" x2="121.30" y2="340.30" stroke="#000" stroke-width="2.12"/>
<line x1="121.30" y1="340.30" x2="121.93" y2="340.56" stroke="#000" stroke-width="2.07"/>
<line x1="127.56" y1="342.90" x2="136.70" y2="346.70" stroke="#000" stroke-width="2.07"/>
<line x1="136.70" y1="346.70" x2="136.80" y2="346.73" stroke="#000" stroke-width="2.11"/>
<line x1="142.64" y1="348.51" x2="152.20" y2="351.43" stroke="#000" stroke-width="2.11"/>
<line x1="158.04" y1="353.21" x2="167.60" y2="356.13" stroke="#000" stroke-width="2.11"/>
<line x1="173.43" y1="357.91" x2="181.60" y2="360.40" stroke="#000" stroke-width="2.11"/>
<line x1="181.60" y1="360.40" x2="183.01" y2="360.79" stroke="#000" stroke-width="2.11"/>
<line x1="188.89" y1="362.41" x2="198.53" y2="365.07" stroke="#000" stroke-width="2.11"/>
<line x1="204.41" y1="366.69" x2="214.05" y2="369.35" stroke="#000" stroke-width="2.11"/>
<line x1="219.93" y1="370.97" x2="227.30" y2="373.00" stroke="#000" stroke-width="2.11"/>
<line x1="227.30" y1="373.00" x2="229.58" y2="373.60" stroke="#000" stroke-width="2.12"/>
<line x1="235.48" y1="375.13" x2="245.16" y2="377.66" stroke="#000" stroke-width="2.12"/>
<line x1="251.06" y1="379.20" x2="260.74" y2="381.72" stroke="#000" stroke-width="2.12"/>
<line x1="266.64" y1="383.26" x2="273.30" y2="385.00" stroke="#000" stroke-width="2.12"/>
<line x1="273.30" y1="385.00" x2="276.38" y2="385.50" stroke="#000" stroke-width="2.14"/>
<line x1="282.40" y1="386.47" x2="292.27" y2="388.06" stroke="#000" stroke-width="2.14"/>
<line x1="298.29" y1="389.03" x2="308.17" y2="390.62" stroke="#000" stroke-width="2.14"/>
<line x1="42.10" y1="438.30" x2="47.50" y2="333.00" stroke="#000" stroke-width="1.9" stroke-linecap="round"/>
<line x1="47.50" y1="333.00" x2="53.30" y2="319.50" stroke="#000" stroke-width="1.84" stroke-linecap="round"/>
<line x1="53.30" y1="319.50" x2="59.20" y2="320.00" stroke="#000" stroke-width="1.5" stroke-linecap="round"/>
<line x1="59.20" y1="320.00" x2="64.70" y2="319.20" stroke="#000" stroke-width="1.51" stroke-linecap="round"/>
<line x1="64.70" y1="319.20" x2="75.80" y2="320.80" stroke="#000" stroke-width="1.51" stroke-linecap="round"/>
<line x1="75.80" y1="320.80" x2="87.00" y2="326.70" stroke="#000" stroke-width="1.6" stroke-linecap="round"/>
<line x1="87.00" y1="326.70" x2="98.30" y2="330.00" stroke="#000" stroke-width="1.54" stroke-linecap="round"/>
<line x1="98.30" y1="330.00" x2="109.70" y2="333.00" stroke="#000" stroke-width="1.53" stroke-linecap="round"/>
<line x1="109.70" y1="333.00" x2="120.80" y2="337.50" stroke="#000" stroke-width="1.56" stroke-linecap="round"/>
<line x1="120.80" y1="337.50" x2="132.50" y2="340.90" stroke="#000" stroke-width="1.53" stroke-linecap="round"/>
<line x1="132.50" y1="340.90" x2="177.20" y2="355.30" stroke="#000" stroke-width="1.54" stroke-linecap="round"/>
<line x1="177.20" y1="355.30" x2="222.60" y2="368.60" stroke="#000" stroke-width="1.54" stroke-linecap="round"/>
<line x1="222.60" y1="368.60" x2="268.10" y2="376.90" stroke="#000" stroke-width="1.51" stroke-linecap="round"/>
<line x1="268.10" y1="376.90" x2="312.40" y2="372.30" stroke="#000" stroke-width="1.5" stroke-linecap="round"/>
<rect x="45.80" y="304.10" width="3.4" height="3.4" fill="#000"/>
<rect x="51.60" y="307.50" width="3.4" height="3.4" fill="#000"/>
<rect x="57.50" y="314.10" width="3.4" height="3.4" fill="#000"/>
<rect x="63.00" y="318.80" width="3.4" height="3.4" fill="#000"/>
<rect x="74.10" y="323.50" width="3.4" height="3.4" fill="#000"/>
<rect x="85.30" y="325.80" width="3.4" height="3.4" fill="#000"/>
<rect x="97.10" y="332.30" width="3.4" height="3.4" fill="#000"/>
<rect x="109.10" y="335.80" width="3.4" height="3.4" fill="#000"/>
<rect x="119.60" y="338.60" width="3.4" height="3.4" fill="#000"/>
<rect x="135.00" y="345.00" width="3.4" height="3.4" fill="#000"/>
<rect x="179.90" y="358.70" width="3.4" height="3.4" fill="#000"/>
<rect x="225.60" y="371.30" width="3.4" height="3.4" fill="#000"/>
<rect x="271.60" y="383.30" width="3.4" height="3.4" fill="#000"/>
<rect x="311.90" y="389.80" width="3.4" height="3.4" fill="#000"/>
<polygon points="41.90,473.20 44.10,477.20 39.70,477.20" fill="#000"/>
<polygon points="42.10,435.00 45.60,441.60 38.60,441.60" fill="#000"/>
<polygon points="47.50,329.70 51.00,336.30 44.00,336.30" fill="#000"/>
<polygon points="53.30,316.20 56.80,322.80 49.80,322.80" fill="#000"/>
<polygon points="59.20,316.70 62.70,323.30 55.70,323.30" fill="#000"/>
<polygon points="64.70,315.90 68.20,322.50 61.20,322.50" fill="#000"/>
<polygon points="75.80,317.50 79.30,324.10 72.30,324.10" fill="#000"/>
<polygon points="87.00,323.40 90.50,330.00 83.50,330.00" fill="#000"/>
<polygon points="98.30,326.70 101.80,333.30 94.80,333.30" fill="#000"/>
<polygon points="109.70,329.70 113.20,336.30 106.20,336.30" fill="#000"/>
<polygon points="120.80,334.20 124.30,340.80 117.30,340.80" fill="#000"/>
<polygon points="132.50,337.60 136.00,344.20 129.00,344.20" fill="#000"/>
<polygon points="177.20,352.00 180.70,358.60 173.70,358.60" fill="#000"/>
<polygon points="222.60,365.30 226.10,371.90 219.10,371.90" fill="#000"/>
<polygon points="268.10,373.60 271.60,380.20 264.60,380.20" fill="#000"/>
<polygon points="312.40,369.00 315.90,375.60 308.90,375.60" fill="#000"/>
</g></svg></body></html>
